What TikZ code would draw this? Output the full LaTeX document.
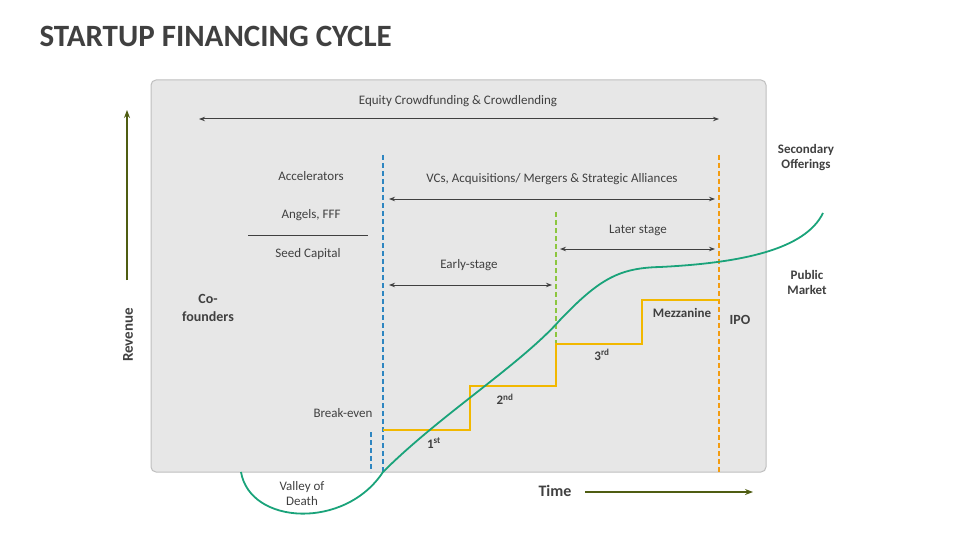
\documentclass[tikz,border=0pt]{standalone}
\usepackage{fontspec}
\setmainfont{Carlito}
\usetikzlibrary{arrows.meta}
\definecolor{boxgray}{HTML}{E7E7E7}
\definecolor{darktxt}{HTML}{404040}
\definecolor{olive}{HTML}{4F5D12}
\definecolor{curvegreen}{HTML}{1AA37A}
\definecolor{stepyellow}{HTML}{F2B800}
\definecolor{dashblue}{HTML}{2E86C1}
\definecolor{dashgreen}{HTML}{8CC63F}
\definecolor{dashorange}{HTML}{F39C12}
\tikzset{
  lbl/.style={font=\fontsize{13}{15}\selectfont, text=darktxt, align=center},
  blbl/.style={lbl, font=\fontsize{13}{15}\selectfont\bfseries},
  span/.style={{Stealth[length=6pt]}-{Stealth[length=6pt]}, draw=darktxt, line width=1pt},
  vdash/.style={dash pattern=on 5pt off 3pt, line width=1.5pt},
}
\begin{document}
\begin{tikzpicture}[x=1pt,y=-1pt]
  \useasboundingbox (0,0) rectangle (960,540);
  \node[anchor=west, font=\fontsize{31}{34}\selectfont\bfseries, text=darktxt] (title) at (36,36) {STARTUP FINANCING CYCLE};

  % panel
  \draw[fill=boxgray, draw=black!25, line width=1pt, rounded corners=5pt] (151,80) rectangle (766,472);

  % spans
  \node[lbl] (equity) at (458,101) {Equity Crowdfunding \& Crowdlending};
  \coordinate (eqL) at (199,119); \coordinate (eqR) at (719,119);
  \draw[span] (eqL) -- (eqR);
  \node[lbl] (vcs) at (552,179) {VCs, Acquisitions/ Mergers \& Strategic Alliances};
  \coordinate (vcL) at (389,199); \coordinate (vcR) at (715,199);
  \draw[span] (vcL) -- (vcR);
  \node[lbl] (later) at (638,230) {Later stage};
  \coordinate (ltL) at (560,249); \coordinate (ltR) at (715,249);
  \draw[span] (ltL) -- (ltR);
  \node[lbl] (early) at (469,265) {Early-stage};
  \coordinate (erL) at (389,285); \coordinate (erR) at (552,285);
  \draw[span] (erL) -- (erR);

  % dashed markers
  \draw[vdash, draw=dashblue] (383,155) -- (383,472);
  \draw[vdash, draw=dashblue] (371,432) -- (371,472);
  \draw[vdash, draw=dashgreen] (556,212) -- (556,345);
  \draw[vdash, draw=dashorange] (719,155) -- (719,472);

  % seed side
  \node[lbl] (accel) at (311,176) {Accelerators};
  \node[lbl] (angels) at (311,215) {Angels, FFF};
  \draw[darktxt, line width=1pt] (248,235) -- (368,235);
  \node[lbl] (seed) at (308,254) {Seed Capital};
  \node[blbl, font=\fontsize{14}{18}\selectfont\bfseries] (cof) at (208,308) {Co-\\founders};
  \node[lbl] (breakeven) at (343,413) {Break-even};

  % rounds
  \draw[stepyellow, line width=1.5pt] (383,430) -- (470,430) -- (470,386) -- (556,386) -- (556,344)
    -- (642,344) -- (642,300) -- (719,300);
  \node[blbl] (r1) at (434,443) {1\textsuperscript{st}};
  \node[blbl] (r2) at (505,399) {2\textsuperscript{nd}};
  \node[blbl] (r3) at (602,355) {3\textsuperscript{rd}};
  \node[blbl] (mezz) at (682,313) {Mezzanine};
  \node[blbl, font=\fontsize{14}{16}\selectfont\bfseries] (ipo) at (740,320) {IPO};

  % growth curve
  \draw[curvegreen, line width=1.8pt] (241,472) .. controls (250,525) and (345,530) .. (383,472)
    .. controls (440,415) and (520,365) .. (560,320)
    .. controls (600,278) and (620,268) .. (660,267)
    .. controls (740,263) and (805,250) .. (823,213);

  \node[lbl] (valley) at (302,494) {Valley of\\Death};
  \node[blbl] (secondary) at (806,158) {Secondary\\Offerings};
  \node[blbl] (public) at (807,282) {Public\\Market};

  % axes
  \node[blbl, font=\fontsize{15}{17}\selectfont\bfseries, rotate=90] (revenue) at (128,335) {Revenue};
  \coordinate (revBot) at (127,280); \coordinate (revTop) at (127,110);
  \draw[olive, line width=1.5pt, -{Stealth[length=8pt]}] (revBot) -- (revTop);
  \node[blbl, font=\fontsize{16}{18}\selectfont\bfseries] (time) at (555,491) {Time};
  \coordinate (timeBeg) at (585,492); \coordinate (timeEnd) at (753,492);
  \draw[olive, line width=1.5pt, -{Stealth[length=8pt]}] (timeBeg) -- (timeEnd);
\end{tikzpicture}
\end{document}
